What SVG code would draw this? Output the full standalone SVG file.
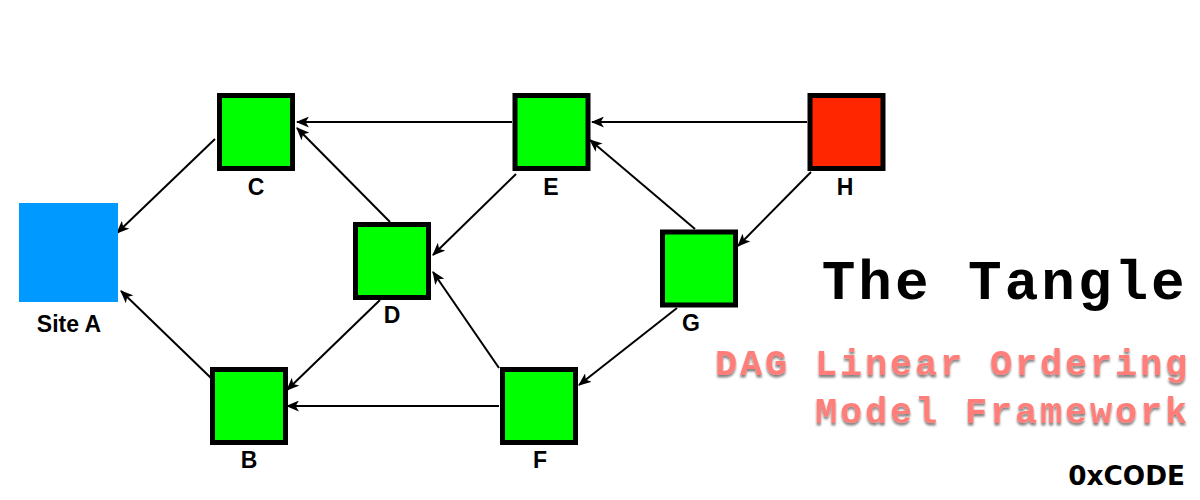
<svg xmlns="http://www.w3.org/2000/svg" width="1200" height="500" viewBox="0 0 1200 500">
<style>
.n{fill:#00ff00;stroke:#000;stroke-width:5}
.l{font-family:"Liberation Sans",Arial,sans-serif;font-weight:bold;font-size:23px;fill:#000;text-anchor:middle}
.c line{stroke:#000;stroke-width:2;marker-end:url(#a)}
.t{font-family:"Liberation Mono","Courier New",monospace;font-weight:bold;text-anchor:middle}
</style>
<defs>
<marker id="a" markerUnits="userSpaceOnUse" markerWidth="13" markerHeight="11" refX="11" refY="5" orient="auto" viewBox="0 0 12 10"><path d="M0 0L12 5L0 10L3 5Z" fill="#000"/></marker>
<filter id="s" x="-5%" y="-20%" width="110%" height="150%"><feDropShadow dx="0" dy="2.500" stdDeviation="1.200" flood-color="#000" flood-opacity=".5"/></filter>
</defs>
<rect width="1200" height="500" fill="#fff"/>
<g id="connectors" class="c">
<line x1="215" y1="139" x2="117" y2="233"/>
<line x1="211" y1="378" x2="121" y2="291"/>
<line x1="512" y1="122" x2="297" y2="122"/>
<line x1="390" y1="222" x2="297" y2="128"/>
<line x1="807" y1="122" x2="592" y2="122"/>
<line x1="516" y1="174" x2="433" y2="255"/>
<line x1="695" y1="229" x2="590" y2="140"/>
<line x1="811" y1="172" x2="738" y2="246"/>
<line x1="499" y1="368" x2="433" y2="272"/>
<line x1="380" y1="300" x2="287" y2="390"/>
<line x1="499" y1="406" x2="287" y2="406"/>
<line x1="677" y1="308" x2="579" y2="385"/>
</g>
<g id="site-a"><rect x="19" y="203" width="99" height="99" fill="#0099ff"/><text class="l" x="69" y="332">Site A</text></g>
<g id="c"><rect class="n" x="219.500" y="95.500" width="73" height="73"/><text class="l" x="256" y="195">C</text></g>
<g id="e"><rect class="n" x="515" y="95.500" width="73" height="73"/><text class="l" x="551" y="195">E</text></g>
<g id="h"><rect class="n" style="fill:#ff2600" x="810" y="95.500" width="73" height="73"/><text class="l" x="845" y="195">H</text></g>
<g id="d"><rect class="n" x="355.500" y="224.500" width="73" height="73"/><text class="l" x="392" y="323">D</text></g>
<g id="g"><rect class="n" x="662.500" y="232" width="73" height="73"/><text class="l" x="691" y="331">G</text></g>
<g id="b"><rect class="n" x="212.500" y="369.500" width="73" height="73"/><text class="l" x="249" y="468">B</text></g>
<g id="f"><rect class="n" x="502.500" y="369.500" width="73" height="73"/><text class="l" x="540" y="468">F</text></g>
<text class="t" y="299" font-size="56" fill="#000" x="838.500 875.100 911.700 948.300 984.900 1021.500 1058.100 1094.700 1131.300 1167.900">The Tangle</text>
<g class="t" font-size="37" fill="#ff7e79" filter="url(#s)">
<text y="375" x="726 751 776 801 826 851 876 901 926 951 976 1001 1026 1051 1076 1101 1126 1151 1176">DAG Linear Ordering</text>
<text y="423" x="826 851 876 901 926 951 976 1001 1026 1051 1076 1101 1126 1151 1176">Model Framework</text>
</g>
<text x="1185" y="485" text-anchor="end" font-family="DejaVu Sans,sans-serif" font-weight="bold" font-size="26.300" fill="#000">0xCODE</text>
</svg>
